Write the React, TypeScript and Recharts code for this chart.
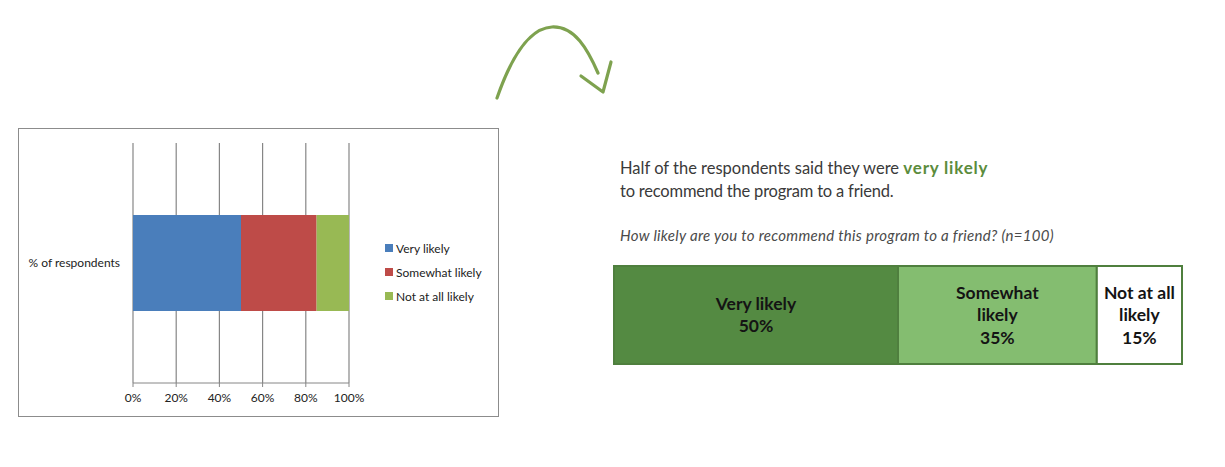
import React from 'react';
import {
  BarChart, Bar, XAxis, YAxis, CartesianGrid, Legend, LabelList,
} from 'recharts';

// survey answers, shared by both charts
const answers = ['Very likely', 'Somewhat likely', 'Not at all likely'];
const shares = [0.5, 0.35, 0.15];
const rowLabel = '% of respondents';
const pctTicks = [0, 0.2, 0.4, 0.6, 0.8, 1];

// colours of the Excel default chart and of the redesign
const excelColors = ['#4a7ebb', '#be4b48', '#98b954'];
const greenFills = ['#548a42', '#84bd70', '#ffffff'];
const greenEdge = '#4f7f3e';

// how the labels wrap inside the redesigned bar
const wrappedLabels = [['Very likely'], ['Somewhat', 'likely'], ['Not at all', 'likely']];

const headline1 = 'Half of the respondents said they were ';
const headlineStrong = 'very likely';
const headline2 = 'to recommend the program to a friend.';
const question = 'How likely are you to recommend this program to a friend? (n=100)';

const FONT = 'Lato, "Noto Sans", sans-serif';
const keys = ['s0', 's1', 's2'];

const row: Record<string, any> = { name: rowLabel };
keys.forEach((k, i) => { row[k] = shares[i]; });
const chartData = [row];

const pct = (v: number) => `${Math.round(v * 100)}%`;

// Excel lists the series top-down in their own order
const ExcelLegend = ({ payload }: any) => {
  const items = [...(payload || [])].sort(
    (a: any, b: any) => answers.indexOf(a.value) - answers.indexOf(b.value),
  );
  return (
    <div style={{ fontFamily: FONT, fontSize: 12, color: '#222' }}>
      {items.map((p: any) => (
        <div key={p.value} style={{ display: 'flex', alignItems: 'center', height: 24 }}>
          <div style={{ width: 8, height: 8, background: p.color, marginRight: 3 }} />
          <span>{p.value}</span>
        </div>
      ))}
    </div>
  );
};

const SegmentLabel = (lines: string[], share: number) => (props: any) => {
  const { x, y, width, height } = props;
  const all = [...lines, pct(share)];
  const step = 22.5;
  const cx = x + width / 2;
  const cy = y + height / 2;
  const first = cy - ((all.length - 1) * step) / 2;
  return (
    <text
      x={cx}
      textAnchor="middle"
      fontFamily={FONT}
      fontWeight={700}
      fontSize={17.5}
      fill="#141414"
    >
      {all.map((t, i) => (
        <tspan key={i} x={cx} y={first + i * step} dy="0.35em">{t}</tspan>
      ))}
    </text>
  );
};

export default function App() {
  return (
    <div style={{
      position: 'absolute', left: 0, top: 0, width: 1225, height: 467,
      background: '#fff', fontFamily: FONT, overflow: 'hidden',
    }}>
      {/* hand drawn arrow */}
      <svg width={1225} height={467} style={{ position: 'absolute', left: 0, top: 0 }}>
        <path
          d="M497,98 C512,55 530,28 552,27 C575,26 588,50 598,73"
          fill="none" stroke="#7ea24f" strokeWidth={3.2} strokeLinecap="round"
        />
        <path
          d="M581,76 L603,92 L611,62"
          fill="none" stroke="#7ea24f" strokeWidth={3.2} strokeLinecap="round" strokeLinejoin="round"
        />
      </svg>

      {/* before: default Excel stacked bar */}
      <div style={{
        position: 'absolute', left: 18, top: 128, width: 479, height: 287,
        border: '1px solid #8c8c8c',
      }}>
        <BarChart
          width={479}
          height={287}
          data={chartData}
          layout="vertical"
          barCategoryGap="30%"
          margin={{ top: 14, right: 149, bottom: 0, left: 0 }}
        >
          <CartesianGrid horizontal={false} stroke="#868686" strokeWidth={1.2} />
          <XAxis
            type="number"
            domain={[0, 1]}
            ticks={pctTicks}
            tickFormatter={pct}
            height={33}
            tickSize={4}
            tickMargin={6}
            stroke="#868686"
            tick={{ fill: '#222', fontSize: 12, fontFamily: FONT }}
            interval={0}
          />
          <YAxis
            yAxisId="frame"
            type="number"
            domain={[0, 1]}
            ticks={[0, 1]}
            width={0}
            tickSize={4}
            tickFormatter={() => ''}
            stroke="#868686"
          />
          <YAxis
            yAxisId="cat"
            type="category"
            dataKey="name"
            width={114}
            tickSize={0}
            tickMargin={13}
            axisLine={false}
            tickLine={false}
            tick={{ fill: '#222', fontSize: 12, fontFamily: FONT }}
          />
          <Legend
            layout="vertical"
            align="center"
            verticalAlign="middle"
            wrapperStyle={{ left: 366, top: 107, width: 110 }}
            content={<ExcelLegend />}
          />
          {keys.map((k, i) => (
            <Bar
              key={k}
              yAxisId="cat"
              dataKey={k}
              name={answers[i]}
              stackId="a"
              fill={excelColors[i]}
              isAnimationActive={false}
            />
          ))}
        </BarChart>
      </div>

      {/* after: headline, question and green bar */}
      <div style={{ position: 'absolute', left: 620, top: 157, fontSize: 16.5, color: '#3a3a3a', lineHeight: '22.5px' }}>
        <div>
          {headline1}
          <span style={{ color: '#5b8c3c', fontWeight: 700, fontSize: 17, letterSpacing: 0.8 }}>{headlineStrong}</span>
        </div>
        <div style={{ letterSpacing: -0.2 }}>{headline2}</div>
      </div>
      <div style={{
        position: 'absolute', left: 620, top: 226, fontSize: 15, fontStyle: 'italic',
        color: '#4a4a4a', letterSpacing: 0.3,
      }}>
        {question}
      </div>

      <div style={{ position: 'absolute', left: 613, top: 265 }}>
        <BarChart
          width={570}
          height={100}
          data={chartData}
          layout="vertical"
          barCategoryGap={0}
          margin={{ top: 1, right: 1, bottom: 1, left: 1 }}
        >
          <XAxis type="number" domain={[0, 1]} hide />
          <YAxis type="category" dataKey="name" hide />
          {keys.map((k, i) => (
            <Bar
              key={k}
              dataKey={k}
              stackId="b"
              fill={greenFills[i]}
              stroke={greenEdge}
              strokeWidth={2}
              isAnimationActive={false}
            >
              <LabelList dataKey={k} content={SegmentLabel(wrappedLabels[i], shares[i])} />
            </Bar>
          ))}
        </BarChart>
      </div>
    </div>
  );
}
